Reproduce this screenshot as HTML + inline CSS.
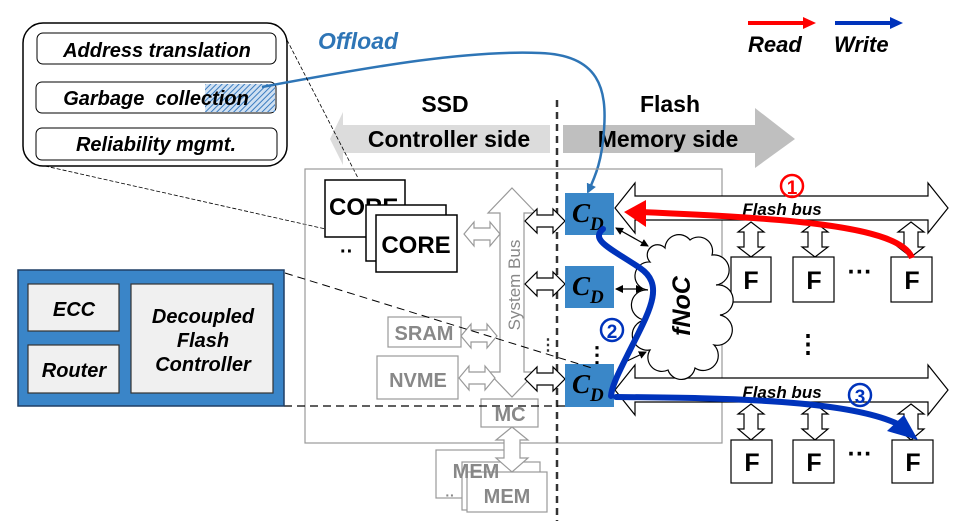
<!DOCTYPE html>
<html><head><meta charset="utf-8"><style>
html,body{margin:0;padding:0;background:#fff;}
svg{display:block;font-family:"Liberation Sans",Arial,sans-serif;}
</style></head><body>
<svg width="966" height="521" viewBox="0 0 966 521" xmlns="http://www.w3.org/2000/svg">
<defs>
<pattern id="hatch" width="4" height="4" patternUnits="userSpaceOnUse" patternTransform="rotate(45)">
<rect width="4" height="4" fill="#cfe0f2"/><line x1="0" y1="0" x2="0" y2="4" stroke="#3a7cc0" stroke-width="2"/>
</pattern>
<marker id="bh" markerWidth="10" markerHeight="10" refX="8" refY="5" orient="auto" markerUnits="userSpaceOnUse"><path d="M0,0 L10,5 L0,10Z" fill="#2e75b6"/></marker>
<marker id="sk" markerWidth="8" markerHeight="8" refX="7" refY="4" orient="auto-start-reverse" markerUnits="userSpaceOnUse"><path d="M0,0 L8,4 L0,8Z" fill="#000"/></marker>
</defs>

<path d="M343,125 L550,125 L550,153 L343,153 L343,165 L330,139 L343,112Z" fill="#dcdcdc"/>
<path d="M563,125 L755,125 L755,108 L795,139 L755,168 L755,153 L563,153Z" fill="#bfbfbf"/>
<text x="445" y="112" font-size="23" font-weight="bold" text-anchor="middle">SSD</text>
<text x="449" y="147" font-size="23" font-weight="bold" text-anchor="middle">Controller side</text>
<text x="670" y="112" font-size="23" font-weight="bold" text-anchor="middle">Flash</text>
<text x="668" y="147" font-size="23" font-weight="bold" text-anchor="middle">Memory side</text>

<line x1="748" y1="23" x2="805" y2="23" stroke="#f00" stroke-width="4"/><path d="M803,17 L816,23 L803,29Z" fill="#f00"/>
<line x1="835" y1="23" x2="892" y2="23" stroke="#0033bb" stroke-width="4"/><path d="M890,17 L903,23 L890,29Z" fill="#0033bb"/>
<text x="748" y="52" font-size="22" font-weight="bold" font-style="italic">Read</text>
<text x="834" y="52" font-size="22" font-weight="bold" font-style="italic">Write</text>

<rect x="23" y="23" width="264" height="143" rx="20" fill="#fff" stroke="#000" stroke-width="1.5"/>
<rect x="37" y="33" width="239" height="31" rx="6" fill="#fff" stroke="#000"/>
<rect x="36" y="82" width="240" height="31" rx="6" fill="#fff" stroke="#000"/>
<rect x="205" y="84" width="70" height="28" fill="url(#hatch)"/>
<rect x="36" y="128" width="241" height="32" rx="6" fill="#fff" stroke="#000"/>
<text x="157" y="57" font-size="20" font-weight="bold" font-style="italic" text-anchor="middle">Address translation</text>
<text x="156" y="105" font-size="20" font-weight="bold" font-style="italic" text-anchor="middle" xml:space="preserve">Garbage  collection</text>
<text x="156" y="151" font-size="20" font-weight="bold" font-style="italic" text-anchor="middle">Reliability mgmt.</text>
<text x="318" y="49" font-size="23" font-weight="bold" font-style="italic" fill="#2e75b6">Offload</text>
<path d="M262,87 C380,65 470,50 540,53 C600,55 607,90 604,130 C602,160 596,175 588,192" fill="none" stroke="#2e75b6" stroke-width="2.5" marker-end="url(#bh)"/>
<line x1="287" y1="40" x2="358" y2="178" stroke="#000" stroke-width="0.8" stroke-dasharray="4,2"/>
<line x1="45" y1="166" x2="330" y2="230" stroke="#000" stroke-width="0.8" stroke-dasharray="4,2"/>

<rect x="305" y="169" width="417" height="274" fill="none" stroke="#999" stroke-width="1.2"/>
<line x1="557" y1="100" x2="557" y2="521" stroke="#333" stroke-width="2.5" stroke-dasharray="7,5"/>

<rect x="325" y="180" width="80" height="57" fill="#fff" stroke="#000" stroke-width="1.5"/>
<text x="329" y="215" font-size="24" font-weight="bold">CORE</text>
<rect x="366" y="205" width="80" height="56" fill="#fff" stroke="#000" stroke-width="1.5"/>
<rect x="376" y="215" width="81" height="57" fill="#fff" stroke="#000" stroke-width="1.5"/>
<text x="416" y="253" font-size="24" font-weight="bold" text-anchor="middle">CORE</text>
<text x="340" y="258" font-size="20" font-weight="bold">··</text>

<g fill="#fff" stroke="#999" stroke-width="1.2">
<path d="M512,188 L536,213 L524,213 L524,372 L536,372 L512,397 L488,372 L500,372 L500,213 L488,213Z"/>
<path d="M464,234 L474,222 L474,228 L490,228 L490,222 L500,234 L490,246 L490,240 L474,240 L474,246Z"/>
<path d="M461,336 L471,324 L471,330 L487,330 L487,324 L497,336 L487,348 L487,342 L471,342 L471,348Z"/>
<path d="M459,378 L469,366 L469,372 L485,372 L485,366 L495,378 L485,390 L485,384 L469,384 L469,390Z"/>
<rect x="388" y="317" width="73" height="30"/>
<rect x="377" y="356" width="81" height="43"/>
<rect x="481" y="399" width="57" height="28"/>
<rect x="436" y="450" width="80" height="48"/>
<rect x="462" y="462" width="78" height="48"/>
<rect x="467" y="472" width="80" height="40"/>
<path d="M512,427 L528,440 L520,440 L520,458 L528,458 L512,472 L496,458 L504,458 L504,440 L496,440Z"/>
</g>
<g fill="#888" font-size="20" font-weight="bold" text-anchor="middle">
<text x="424" y="340">SRAM</text>
<text x="418" y="387">NVME</text>
<text x="510" y="421">MC</text>
<text x="476" y="478">MEM</text>
<text x="507" y="503">MEM</text>
<text transform="translate(520,285) rotate(-90)" font-size="17" font-weight="normal">System Bus</text>
<text x="450" y="500" font-size="14">··</text>
</g>
<text x="540" y="350" font-size="16" font-weight="bold" fill="#333">⋮</text>
<text x="586" y="362" font-size="22" font-weight="bold">⋮</text>

<g fill="#fff" stroke="#000" stroke-width="1.2">
<path d="M525,221 L537,209 L537,215 L553,215 L553,209 L565,221 L553,233 L553,227 L537,227 L537,233Z"/>
<path d="M525,284 L537,272 L537,278 L553,278 L553,272 L565,284 L553,296 L553,290 L537,290 L537,296Z"/>
<path d="M525,379 L537,367 L537,373 L553,373 L553,367 L565,379 L553,391 L553,385 L537,385 L537,391Z"/>
<path d="M615,208 L635,183 L635,196 L928,196 L928,183 L948,208 L928,233 L928,220 L635,220 L635,233Z"/>
<path d="M615,390 L635,365 L635,378 L928,378 L928,365 L948,390 L928,415 L928,402 L635,402 L635,415Z"/>
<path d="M751,222 L764,232 L758,232 L758,247 L764,247 L751,257 L738,247 L744,247 L744,232 L738,232Z"/>
<path d="M815,222 L828,232 L822,232 L822,247 L828,247 L815,257 L802,247 L808,247 L808,232 L802,232Z"/>
<path d="M911,222 L924,232 L918,232 L918,247 L924,247 L911,257 L898,247 L904,247 L904,232 L898,232Z"/>
<path d="M751,404 L764,414 L758,414 L758,429 L764,429 L751,440 L738,429 L744,429 L744,414 L738,414Z"/>
<path d="M815,404 L828,414 L822,414 L822,429 L828,429 L815,440 L802,429 L808,429 L808,414 L802,414Z"/>
<path d="M911,404 L924,414 L918,414 L918,429 L924,429 L911,440 L898,429 L904,429 L904,414 L898,414Z"/>
</g>
<text x="782" y="215" font-size="17" font-weight="bold" font-style="italic" text-anchor="middle">Flash bus</text>
<text x="782" y="398" font-size="17" font-weight="bold" font-style="italic" text-anchor="middle">Flash bus</text>

<g fill="#fff" stroke="#000" stroke-width="1.2">
<rect x="731" y="257" width="40" height="45"/><rect x="793" y="257" width="41" height="45"/><rect x="891" y="257" width="41" height="45"/>
<rect x="731" y="440" width="41" height="43"/><rect x="793" y="440" width="41" height="43"/><rect x="892" y="440" width="41" height="43"/>
</g>
<g font-size="25" font-weight="bold" text-anchor="middle">
<text x="751" y="289">F</text><text x="814" y="289">F</text><text x="912" y="289">F</text>
<text x="752" y="471">F</text><text x="814" y="471">F</text><text x="913" y="471">F</text>
<text x="860" y="280">···</text><text x="860" y="462">···</text>
<text x="808" y="352">⋮</text>
</g>

<path d="M665,248 A14,14 0 0 1 690,240 A14,14 0 0 1 712,255 A15,15 0 0 1 716,285 A15,15 0 0 1 720,315 A15,15 0 0 1 714,345 A15,15 0 0 1 695,368 A14,14 0 0 1 668,370 A14,14 0 0 1 650,350 A15,15 0 0 1 645,320 A15,15 0 0 1 648,290 A14,14 0 0 1 650,262 A10,10 0 0 1 665,248Z" fill="#fff" stroke="#000" stroke-width="1.2"/>
<text transform="translate(690,306) rotate(-90)" font-size="25" font-weight="bold" font-style="italic" text-anchor="middle">fNoC</text>
<line x1="616" y1="228" x2="648" y2="246" stroke="#000" stroke-width="1.2" marker-start="url(#sk)" marker-end="url(#sk)"/>
<line x1="616" y1="289" x2="643" y2="289" stroke="#000" stroke-width="1.2" marker-start="url(#sk)" marker-end="url(#sk)"/>
<line x1="625" y1="362" x2="646" y2="352" stroke="#000" stroke-width="1.2" marker-end="url(#sk)"/>

<g fill="#3a87c8"><rect x="565" y="193" width="49" height="42"/><rect x="565" y="266" width="49" height="42"/><rect x="565" y="364" width="49" height="43"/></g>
<g font-family="'Liberation Serif',serif" font-weight="bold" font-style="italic" fill="#000">
<text x="572" y="222" font-size="27">C</text><text x="590" y="230" font-size="19">D</text>
<text x="572" y="295" font-size="27">C</text><text x="590" y="303" font-size="19">D</text>
<text x="572" y="393" font-size="27">C</text><text x="590" y="401" font-size="19">D</text>
</g>

<path d="M912,258 C900,225 780,218 640,212" fill="none" stroke="#f00" stroke-width="6"/>
<path d="M646,200 L624,212 L646,227Z" fill="#f00"/>
<path d="M603,229 C590,240 610,248 640,268 C665,285 650,310 630,350 C620,370 612,385 611,396" fill="none" stroke="#0033bb" stroke-width="6" stroke-linecap="round"/>
<path d="M616,397 C730,398 850,400 900,425" fill="none" stroke="#0033bb" stroke-width="6" stroke-linecap="round"/>
<path d="M887,431 L918,440 L904,415Z" fill="#0033bb"/>
<g font-size="22" font-weight="bold" text-anchor="middle">
<circle cx="792" cy="186" r="11" fill="none" stroke="#f00" stroke-width="2.5"/><text x="792" y="194" fill="#f00" font-size="19">1</text>
<circle cx="612" cy="330" r="11" fill="none" stroke="#0033bb" stroke-width="2.5"/><text x="612" y="338" fill="#0033bb" font-size="19">2</text>
<circle cx="860" cy="395" r="11" fill="none" stroke="#0033bb" stroke-width="2.5"/><text x="860" y="403" fill="#0033bb" font-size="19">3</text>
</g>

<line x1="285" y1="273" x2="592" y2="368" stroke="#000" stroke-width="1" stroke-dasharray="8,5"/>
<line x1="284" y1="406" x2="565" y2="406" stroke="#000" stroke-width="1.2" stroke-dasharray="8,5"/>
<rect x="18" y="270" width="266" height="136" fill="#3a85c8" stroke="#1f3f66" stroke-width="1.5"/>
<g fill="#f0f0f0" stroke="#333" stroke-width="1.2">
<rect x="28" y="284" width="91" height="47"/><rect x="28" y="345" width="91" height="48"/><rect x="131" y="284" width="142" height="109"/>
</g>
<g font-size="20" font-weight="bold" font-style="italic" text-anchor="middle">
<text x="74" y="316">ECC</text><text x="74" y="377">Router</text>
<text x="203" y="323">Decoupled</text><text x="203" y="347">Flash</text><text x="203" y="371">Controller</text>
</g>
</svg>
</body></html>
